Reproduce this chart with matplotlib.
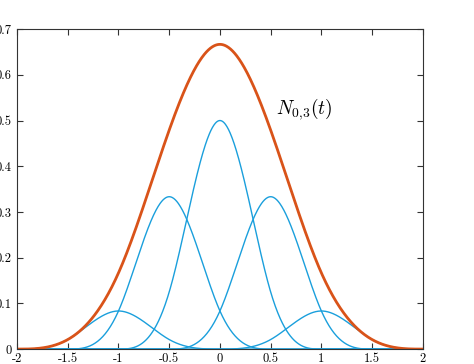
import numpy as np
import matplotlib.pyplot as plt

# refinement: N(t) = sum_k w_k * N(2t - k)
shifts = [-2, -1, 0, 1, 2]
weights = [1 / 8, 4 / 8, 6 / 8, 4 / 8, 1 / 8]
xticks = [-2, -1.5, -1, -0.5, 0, 0.5, 1, 1.5, 2]
xlabels = ['-2', '-1.5', '-1', '-0.5', '0', '0.5', '1', '1.5', '2']
yticks = [0, 0.1, 0.2, 0.3, 0.4, 0.5, 0.6, 0.7]
ylabels = ['0', '0.1', '0.2', '0.3', '0.4', '0.5', '0.6', '0.7']


def bspline3(t):
    # centred cubic B-spline, support [-2, 2]
    a = np.abs(t)
    out = np.zeros_like(a)
    m1 = a < 1
    m2 = (a >= 1) & (a < 2)
    out[m1] = 2 / 3 - a[m1] ** 2 + a[m1] ** 3 / 2
    out[m2] = (2 - a[m2]) ** 3 / 6
    return out


plt.rcParams['font.family'] = 'serif'
plt.rcParams['font.serif'] = ['cmr10', 'DejaVu Serif']
plt.rcParams['mathtext.fontset'] = 'cm'

t = np.linspace(-2, 2, 801)

fig = plt.figure(figsize=(4.74, 3.64), dpi=100)
ax = fig.add_axes([0.036, 0.041, 0.856, 0.879])

for k, w in zip(shifts, weights):
    ax.plot(t, w * bspline3(2 * t - k), color='#1a9fdc', lw=1.0)
ax.plot(t, bspline3(t), color='#d95319', lw=2.0)

ax.text(0.55, 0.525, r'$N_{0{,}3}(t)$', fontsize=14, va='center', ha='left')

ax.set_xlim(-2, 2)
ax.set_ylim(0, 0.7)
ax.set_xticks(xticks)
ax.set_xticklabels(xlabels)
ax.set_yticks(yticks)
ax.set_yticklabels(ylabels)
ax.tick_params(direction='in', top=True, right=True, length=4, width=0.8,
               labelsize=9, color='#333333')
ax.tick_params(axis='x', pad=3)
ax.tick_params(axis='y', pad=4)
for s in ax.spines.values():
    s.set_linewidth(0.8)
    s.set_color('#333333')

fig.savefig('out.png', dpi=100)
